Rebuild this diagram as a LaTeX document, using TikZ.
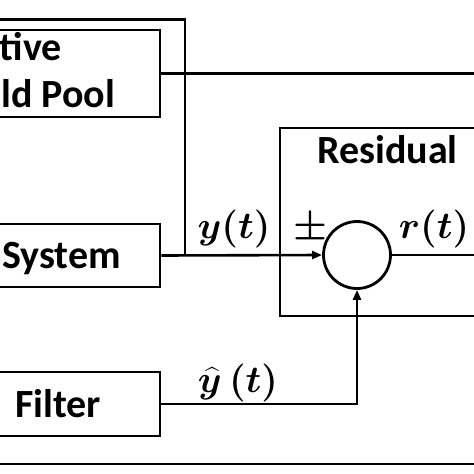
\RequirePackage{fix-cm}
\documentclass[tikz,border=0pt]{standalone}
\usepackage{amsmath}
\usepackage{fontspec}
\setmainfont{Carlito}
\usetikzlibrary{arrows.meta}
\tikzset{
  blk/.style={draw, line width=2.8pt, inner sep=0pt},
  lbl/.style={inner sep=0pt, font=\fontsize{40}{48}\selectfont\bfseries},
  mlbl/.style={inner sep=0pt, font=\fontsize{38}{44}\selectfont\boldmath},
  wire/.style={line width=2.6pt},
  arr/.style={wire, -{Triangle[length=10pt,width=8pt]}}
}
\begin{document}
\begin{tikzpicture}[x=1pt,y=-1pt]
\useasboundingbox (0,0) rectangle (474,474);
\clip (0,0) rectangle (474,474);
% blocks
\node[blk, minimum width=190pt, minimum height=87pt] (pool) at (65,73.5) {};
\node[blk, minimum width=190pt, minimum height=63pt] (sys) at (65,255.5) {};
\node[blk, minimum width=190pt, minimum height=64pt] (filt) at (65,404) {};
\node[blk, minimum width=230pt, minimum height=188pt] (res) at (395,222) {};
\node[blk, circle, minimum size=67pt] (sum) at (357,255) {};
% texts
\node[lbl, anchor=base east] (t1) at (62,60) {tive};
\node[lbl, anchor=base west] (t2) at (1,107) {ld Pool};
\node[lbl, anchor=base west] (t3) at (2,268) {System};
\node[lbl, anchor=base west] (t4) at (15,417) {Filter};
\node[lbl, anchor=base west] (t5) at (317,163) {Residual};
\node[mlbl, anchor=base] (ly) at (234,238) {$y(t)$};
\node[mlbl, anchor=base] (lpm) at (310,238) {$\pm$};
\node[mlbl, anchor=base] (lr) at (434,238) {$r(t)$};
\node[mlbl, anchor=base] (lyh) at (238,392) {$\widehat{y}\,(t)$};
% coordinates
\coordinate (tl) at (0,19.5);
\coordinate (tr) at (185,19.5);
\coordinate (jn) at (185,255.5);
\coordinate (poolout) at (474,73.5);
\coordinate (rout) at (474,255);
\coordinate (bl) at (0,464);
\coordinate (br) at (474,464);
% connectors
\draw[wire] (pool.east) -- (poolout);
\draw[wire] (tl) -- (tr) -- (jn);
\draw[arr] (sys.east) -- (sum.west);
\draw[arr] (filt.east) -| (sum.south);
\draw[wire] (sum.east) -- (rout);
\draw[wire] (bl) -- (br);
\end{tikzpicture}
\end{document}
